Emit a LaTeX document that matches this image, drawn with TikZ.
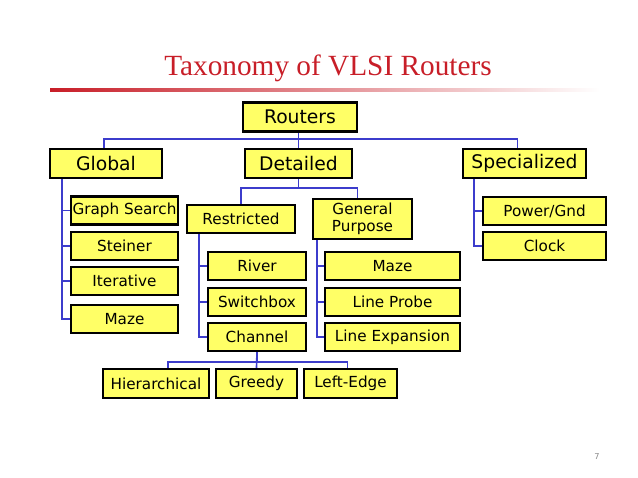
\documentclass[tikz,border=0pt]{standalone}
\usepackage{fontspec}
\setmainfont{Liberation Serif}
\newfontfamily\boxfont{DejaVu Sans}
\usetikzlibrary{calc,positioning}
\definecolor{Ink}{HTML}{000000}
\definecolor{Lemon}{HTML}{FFFF66}
\definecolor{Wire}{HTML}{3C3CCC}
\definecolor{Title}{HTML}{C81E28}
\definecolor{PageGray}{HTML}{8A8A8A}
\tikzset{
  topbox/.style={
    draw=Ink, line width=2pt, fill=Lemon, inner sep=0pt,
    minimum height=0.87cm, font=\boxfont\fontsize{16}{18}\selectfont
  },
  leafbox/.style={
    draw=Ink, line width=2pt, fill=Lemon, inner sep=0pt, align=center,
    minimum height=0.84cm, font=\boxfont\fontsize{13}{15}\selectfont
  },
  bus/.style={draw=Wire, line width=1.4pt}
}

\begin{document}
\begin{tikzpicture}[x=0.03cm,y=-0.03cm]
    \useasboundingbox (0,0) rectangle (638,478);

    \node[font=\fontsize{25}{28}\selectfont,text=Title] (title) at (328,68) {Taxonomy of VLSI Routers};
    \shade[left color=Title,right color=white] (50,88.5) rectangle (600,91.5);

    \node[topbox,minimum width=3.42cm] (routers) at (300,117) {Routers};
    \node[topbox,minimum width=3.36cm] (global) at (106,163.5) {Global};
    \node[topbox,minimum width=3.21cm] (detailed) at (298.5,163.5) {Detailed};
    \node[topbox,minimum width=3.69cm] (special) at (524.5,163.5) {Specialized};

    \node[leafbox,minimum width=3.21cm] (gsearch) at (124.5,210.5) {Graph Search};
    \node[leafbox,minimum width=3.21cm] (steiner) at (124.5,246) {Steiner};
    \node[leafbox,minimum width=3.21cm] (iter) at (124.5,281) {Iterative};
    \node[leafbox,minimum width=3.21cm] (gmaze) at (124.5,319) {Maze};

    \node[leafbox,minimum width=3.24cm] (restricted) at (241,219) {Restricted};
    \node[leafbox,minimum width=2.97cm,minimum height=1.2cm] (general) at (362.5,219)
      {General\\Purpose};

    \node[leafbox,minimum width=2.94cm] (river) at (257,266) {River};
    \node[leafbox,minimum width=2.94cm] (switchbox) at (257,302) {Switchbox};
    \node[leafbox,minimum width=2.94cm] (channel) at (257,337) {Channel};

    \node[leafbox,minimum width=4.05cm] (pmaze) at (392.5,266) {Maze};
    \node[leafbox,minimum width=4.05cm] (probe) at (392.5,302) {Line Probe};
    \node[leafbox,minimum width=4.05cm] (expand) at (392.5,337) {Line Expansion};

    \node[leafbox,minimum width=3.18cm,minimum height=0.87cm] (hier) at (156,383.5) {Hierarchical};
    \node[leafbox,minimum width=2.43cm,minimum height=0.87cm] (greedy) at (256.5,383.5) {Greedy};
    \node[leafbox,minimum width=2.79cm,minimum height=0.87cm] (leftedge) at (350.5,383.5) {Left-Edge};

    \node[leafbox,minimum width=3.69cm] (power) at (544.5,211) {Power/Gnd};
    \node[leafbox,minimum width=3.69cm] (clock) at (544.5,246) {Clock};

    \node[font=\boxfont\fontsize{7}{8}\selectfont,text=PageGray] (page) at (597,457) {7};

    \draw[bus] ($(global.north)+(-2,0)$) -- ++(0,-9) -| ($(special.north)+(-7,0)$);
    \draw[bus] (detailed.north) -- (detailed.north |- routers.south);

    \coordinate (gstem) at ($(global.south west)+(13,0)$);
    \foreach \c in {gsearch,steiner,iter,gmaze}
      \draw[bus] (gstem) |- (\c.west);

    \draw[bus] (detailed.south) -- ++(0,9) -| (restricted.north);
    \draw[bus] (detailed.south) -- ++(0,9) -| ($(general.north)+(-5,0)$);

    \coordinate (rstem) at ($(restricted.south west)+(13,0)$);
    \foreach \c in {river,switchbox,channel}
      \draw[bus] (rstem) |- (\c.west);

    \coordinate (pstem) at ($(general.south west)+(5,0)$);
    \foreach \c in {pmaze,probe,expand}
      \draw[bus] (pstem) |- (\c.west);

    \coordinate (sstem) at ($(special.south west)+(12,0)$);
    \foreach \c in {power,clock}
      \draw[bus] (sstem) |- (\c.west);

    \draw[bus] (channel.south) -- ++(0,10) -| ($(hier.north)+(12,0)$);
    \draw[bus] (channel.south) -- ++(0,10) -| ($(leftedge.north)+(-3,0)$);
    \draw[bus] (channel.south) -- (greedy.north);
  \end{tikzpicture}
\end{document}
